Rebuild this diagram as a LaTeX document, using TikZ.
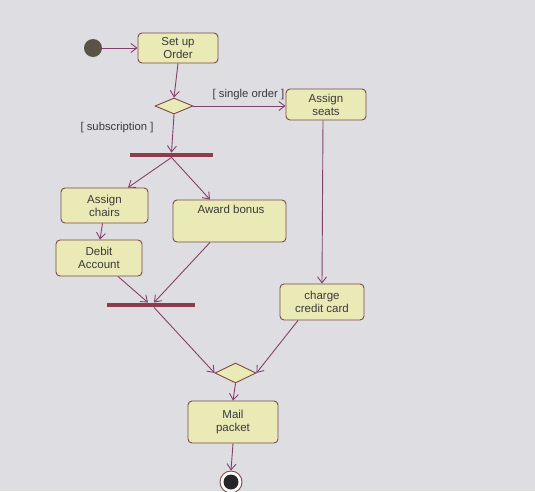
\documentclass[tikz,border=0pt]{standalone}
\usepackage{fontspec}
\setmainfont{Liberation Sans}
\usetikzlibrary{arrows.meta,shapes.geometric}
\definecolor{bg}{HTML}{DEDEE2}
\definecolor{boxfill}{HTML}{EAEAB6}
\definecolor{boxline}{HTML}{7A4A48}
\definecolor{arrowc}{HTML}{84406A}
\definecolor{barc}{HTML}{8C3C4C}
\definecolor{txt}{HTML}{3A3A3A}
\definecolor{dotc}{HTML}{5A5448}
\tikzset{
  act/.style={draw=boxline, fill=boxfill, rounded corners=4pt, line width=0.9pt,
    align=center, font=\fontsize{11.5}{13}\selectfont, text=txt, inner sep=0pt},
  guard/.style={font=\fontsize{11.3}{13}\selectfont, text=txt, inner sep=0pt},
  bar/.style={fill=barc, draw=none, minimum height=4.5pt, inner sep=0pt},
  dec/.style={diamond, draw=boxline, fill=boxfill, line width=0.9pt, inner sep=0pt},
  flow/.style={draw=arrowc, line width=0.9pt, -{Straight Barb[length=6pt,width=9pt]}},
}
\begin{document}
\begin{tikzpicture}[x=1pt,y=-1pt]
\fill[bg] (0,0) rectangle (535,491);
\useasboundingbox (0,0) rectangle (535,491);
% nodes
\node[circle, fill=dotc, minimum size=18pt, inner sep=0pt] (start) at (93,48) {};
\node[act, minimum width=80pt, minimum height=30pt] (setup) at (178,48) {Set up\\Order};
\node[dec, minimum width=38pt, minimum height=16pt] (d1) at (174,106) {};
\node[act, minimum width=80pt, minimum height=31pt] (seats) at (326,104.5) {Assign\\seats};
\node[guard] (gsingle) at (248.5,95) {[ single order ]};
\node[guard] (gsub) at (117,128) {[ subscription ]};
\node[bar, minimum width=83pt] (fork) at (171.5,155) {};
\node[act, minimum width=87pt, minimum height=35pt] (chairs) at (104.5,205.5) {Assign\\chairs};
\node[act, minimum width=113pt, minimum height=42pt] (award) at (229.5,221) {};
\node[text=txt, font=\fontsize{11.5}{13}\selectfont, inner sep=0pt] (awardt) at (231,209) {Award bonus};
\node[act, minimum width=86pt, minimum height=36pt] (debit) at (99,258) {Debit\\Account};
\node[bar, minimum width=88pt] (join) at (151,305) {};
\node[act, minimum width=84pt, minimum height=36pt] (charge) at (322,302) {charge\\credit card};
\node[dec, minimum width=41pt, minimum height=20pt] (merge) at (235.5,373) {};
\node[act, minimum width=90pt, minimum height=42pt] (mail) at (233,422) {Mail\\packet};
\node[circle, draw=boxline, fill=white, line width=0.9pt, minimum size=22pt, inner sep=0pt] (final) at (231,482) {};
\node[circle, fill=black!85, minimum size=15pt, inner sep=0pt] (finalin) at (final) {};
% flows
\draw[flow] (start) -- (setup);
\draw[flow] (setup.south) -- (d1.north);
\draw[flow] (d1.east) -- (seats.west |- d1.east);
\draw[flow] (d1.south) -- (fork.north);
\draw[flow] (fork.south) -- ([xshift=23.5pt]chairs.north);
\draw[flow] (fork.south) -- ([xshift=-19.5pt]award.north);
\draw[flow] ([xshift=-2pt]chairs.south) -- ([xshift=1pt]debit.north);
\draw[flow] ([xshift=19pt]debit.south) -- ([xshift=-3pt]join.north);
\draw[flow] ([xshift=-19.5pt]award.south) -- ([xshift=3pt]join.north);
\draw[flow] ([xshift=-3pt]seats.south) -- (charge.north);
\draw[flow] ([xshift=3pt]join.south) -- (merge.west);
\draw[flow] ([xshift=-24pt]charge.south) -- (merge.east);
\draw[flow] (merge.south) -- (mail.north);
\draw[flow] (mail.south) -- (final.north);
\end{tikzpicture}
\end{document}
